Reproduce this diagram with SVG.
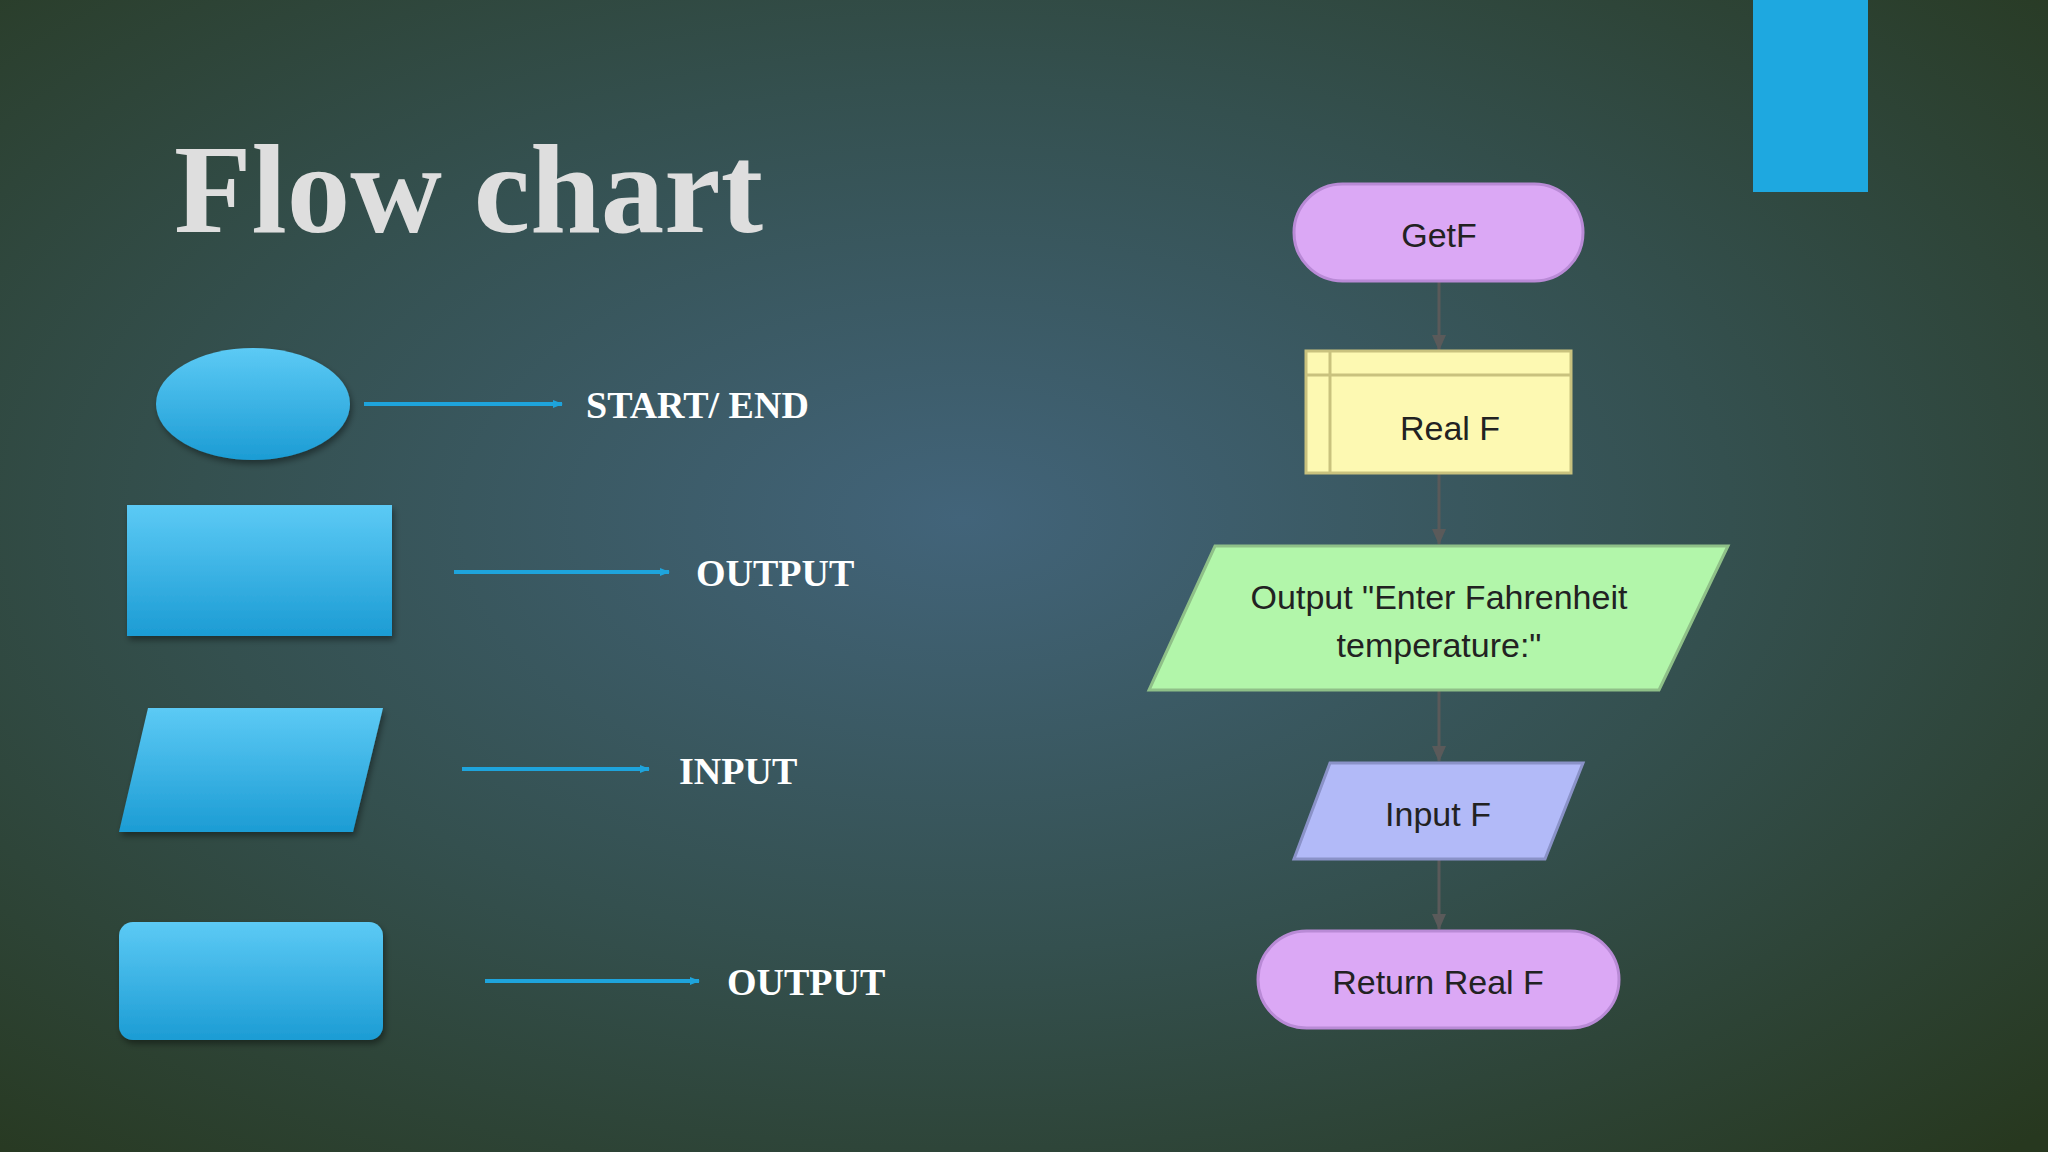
<svg xmlns="http://www.w3.org/2000/svg" width="2048" height="1152" viewBox="0 0 2048 1152">
<defs>
<radialGradient id="bg" cx="0.47" cy="0.45" r="0.75">
<stop offset="0" stop-color="#42647a"/>
<stop offset="0.5" stop-color="#34504f"/>
<stop offset="1" stop-color="#27381f"/>
</radialGradient>
<linearGradient id="blue" x1="0" y1="0" x2="0" y2="1">
<stop offset="0" stop-color="#5ccaf5"/>
<stop offset="1" stop-color="#1c9cd4"/>
</linearGradient>
<marker id="ab" markerWidth="10" markerHeight="8" refX="9" refY="4" orient="auto" markerUnits="userSpaceOnUse">
<path d="M0,0 L10,4 L0,8 z" fill="#1ea4dc"/>
</marker>
<marker id="ag" markerWidth="16" markerHeight="14" refX="15" refY="7" orient="auto" markerUnits="userSpaceOnUse">
<path d="M0,0 L16,7 L0,14 z" fill="#5a5a5a"/>
</marker>
<filter id="sh" x="-20%" y="-20%" width="140%" height="150%">
<feDropShadow dx="2" dy="4" stdDeviation="3" flood-color="#000" flood-opacity="0.4"/>
</filter>
</defs>
<style>
.lbl{font-family:"Liberation Serif",serif;font-weight:bold;font-size:38px;fill:#ffffff}
.ft{font-family:"Liberation Sans",Arial,sans-serif;font-size:34px;fill:#222;text-anchor:middle}
.bl{stroke:#1ea4dc;stroke-width:4;fill:none}
.gl{stroke:#5a5a5a;stroke-width:3;fill:none}
.sym{fill:url(#blue);filter:url(#sh)}
</style>
<rect width="2048" height="1152" fill="url(#bg)"/>
<rect x="1753" y="0" width="115" height="192" fill="#1ea8e0"/>
<text x="174" y="232" font-family="Liberation Serif,serif" font-weight="bold" font-size="127" fill="#dedede">Flow chart</text>

<g id="legend-start"><ellipse class="sym" cx="253" cy="404" rx="97" ry="56"/></g>
<g id="legend-output1"><rect class="sym" x="127" y="505" width="265" height="131"/></g>
<g id="legend-input"><polygon class="sym" points="148,708 383,708 353,832 119,832"/></g>
<g id="legend-output2"><rect class="sym" x="119" y="922" width="264" height="118" rx="14"/></g>
<g id="legend-labels">
<text class="lbl" x="586" y="418">START/ END</text>
<text class="lbl" x="696" y="586">OUTPUT</text>
<text class="lbl" x="679" y="784">INPUT</text>
<text class="lbl" x="727" y="995">OUTPUT</text>
</g>

<g id="connectors">
<line class="bl" x1="364" y1="404" x2="562" y2="404" marker-end="url(#ab)"/>
<line class="bl" x1="454" y1="572" x2="669" y2="572" marker-end="url(#ab)"/>
<line class="bl" x1="462" y1="769" x2="649" y2="769" marker-end="url(#ab)"/>
<line class="bl" x1="485" y1="981" x2="699" y2="981" marker-end="url(#ab)"/>
<line class="gl" x1="1439" y1="281" x2="1439" y2="350" marker-end="url(#ag)"/>
<line class="gl" x1="1439" y1="473" x2="1439" y2="544" marker-end="url(#ag)"/>
<line class="gl" x1="1439" y1="690" x2="1439" y2="761" marker-end="url(#ag)"/>
<line class="gl" x1="1439" y1="859" x2="1439" y2="929" marker-end="url(#ag)"/>
</g>

<g id="getf">
<rect x="1294" y="184" width="289" height="97" rx="48.5" fill="#dba8f5" stroke="#b98ad6" stroke-width="3"/>
<text class="ft" x="1439" y="247">GetF</text>
</g>
<g id="realf">
<rect x="1306" y="351" width="265" height="122" fill="#fdf9b2" stroke="#c9c27e" stroke-width="3"/>
<line x1="1306" y1="375" x2="1571" y2="375" stroke="#c9c27e" stroke-width="3"/>
<line x1="1330" y1="351" x2="1330" y2="473" stroke="#c9c27e" stroke-width="3"/>
<text class="ft" x="1450" y="440">Real F</text>
</g>
<g id="output">
<polygon points="1215,546 1728,546 1659,690 1149,690" fill="#b2f6aa" stroke="#8fc088" stroke-width="3"/>
<text class="ft" x="1439" y="609">Output "Enter Fahrenheit</text>
<text class="ft" x="1439" y="657">temperature:"</text>
</g>
<g id="inputf">
<polygon points="1330,763 1583,763 1545,859 1294,859" fill="#b2baf8" stroke="#8a92c8" stroke-width="3"/>
<text class="ft" x="1438" y="826">Input F</text>
</g>
<g id="return">
<rect x="1258" y="931" width="361" height="97" rx="48.5" fill="#dba8f5" stroke="#b98ad6" stroke-width="3"/>
<text class="ft" x="1438" y="994">Return Real F</text>
</g>
</svg>
